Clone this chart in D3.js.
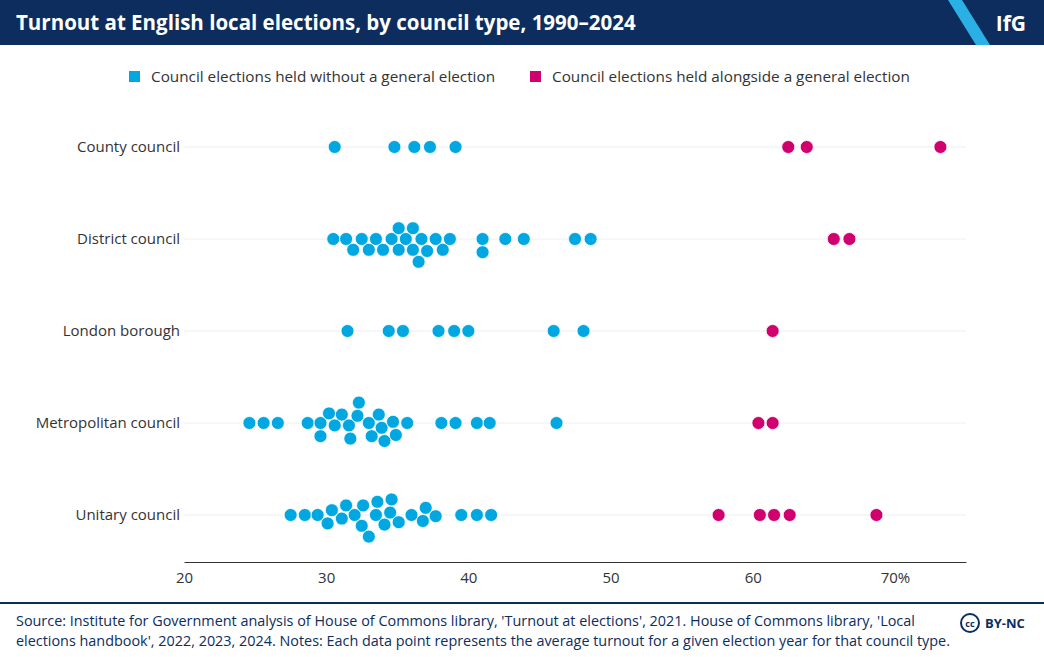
<!DOCTYPE html><html><head><meta charset="utf-8"><script src="https://cdn.jsdelivr.net/npm/d3@7"></script>
<style>body{margin:0;background:#fff;font-family:"Open Sans",sans-serif}</style></head><body><svg id="c" width="1044" height="657"></svg>
<script>
const categories=["County council","District council","London borough","Metropolitan council","Unitary council"];
const withoutGE=[
[30.6,34.8,36.2,37.3,39.1],
[30.5,31.4,31.9,32.5,33.0,33.5,34.0,34.6,35.1,35.1,35.6,36.1,36.1,36.5,36.7,37.1,37.7,38.2,38.7,41.0,41.0,42.6,43.9,47.5,48.6],
[31.5,34.4,35.4,37.9,39.0,40.0,46.0,48.1],
[24.6,25.6,26.6,28.7,29.6,29.6,30.2,30.6,31.1,31.6,31.7,32.2,32.3,33.0,33.2,33.7,33.9,34.1,34.7,34.9,35.7,38.1,39.1,40.6,41.5,46.2],
[27.5,28.5,29.4,30.1,30.4,31.1,31.4,32.0,32.5,32.6,33.0,33.5,33.6,34.1,34.5,34.6,35.1,36.0,36.8,37.0,37.7,39.5,40.6,41.6]];
const withGE=[[62.5,63.8,73.2],[65.7,66.8],[61.4],[60.4,61.4],[57.6,60.5,61.5,62.6,68.7]];
const ticks=[20,30,40,50,60,70];
const blue="#00a7e0",pink="#d0006f",navy="#0c2d5e";
const svg=d3.select("#c");
svg.append("rect").attr("width",1044).attr("height",45).attr("fill",navy);
svg.append("text").attr("x",16).attr("y",30).attr("fill","#fff").attr("font-size",20.5).attr("font-weight",700).text("Turnout at English local elections, by council type, 1990–2024");
svg.append("polygon").attr("points","948,0 962,0 990,45 976,45").attr("fill","#2bb0e6");
svg.append("text").attr("x",1026).attr("y",31).attr("text-anchor","end").attr("fill","#fff").attr("font-size",21).attr("font-weight",700).text("IfG");
const x=d3.scaleLinear().domain([20,75]).range([184,966]);
const y=d3.scalePoint().domain(categories).range([147,515]);
[[blue,"Council elections held without a general election",129],[pink,"Council elections held alongside a general election",530]].forEach(([c,t,lx])=>{
svg.append("rect").attr("x",lx).attr("y",71).attr("width",11).attr("height",11).attr("fill",c);
svg.append("text").attr("x",lx+22).attr("y",82).attr("font-size",15.3).attr("fill","#333").text(t);});
categories.forEach(c=>{
svg.append("line").attr("x1",184).attr("x2",966).attr("y1",y(c)).attr("y2",y(c)).attr("stroke","#eee");
svg.append("text").attr("x",180).attr("y",y(c)+5).attr("text-anchor","end").attr("font-size",15).attr("fill","#333").text(c);});
const ax=svg.append("g").attr("transform","translate(0,562)").call(d3.axisBottom(x).tickValues(ticks).tickSize(0).tickPadding(10).tickFormat(d=>d===70?"70%":d));
ax.select(".domain").attr("stroke","#333");
ax.selectAll("text").attr("font-size",15).attr("fill","#333").attr("font-family","Open Sans");
const r=6.5,D=12.8;
function swarm(vals){const placed=[];const out=[];
vals.slice().sort((a,b)=>a-b).forEach(v=>{const px=x(v);let best=null;
const cands=[0];for(let k=1;k<40;k++){cands.push(k*1.2,-k*1.2);}
for(const dy of cands){if(placed.every(p=>(p[0]-px)**2+(p[1]-dy)**2>=D*D-0.5)){best=dy;break;}}
placed.push([px,best]);out.push([px,best]);});return out;}
categories.forEach((c,i)=>{
[[withoutGE[i],blue],[withGE[i],pink]].forEach(([vals,col])=>{
svg.append("g").selectAll("circle").data(swarm(vals)).join("circle").attr("cx",d=>d[0]).attr("cy",d=>y(c)+d[1]).attr("r",r).attr("fill",col).attr("stroke","#fff").attr("stroke-width",0.8);});});
svg.append("line").attr("x1",0).attr("x2",1044).attr("y1",603).attr("y2",603).attr("stroke",navy).attr("stroke-width",2);
const ft=svg.append("text").attr("font-size",14.4).attr("fill",navy);
ft.append("tspan").attr("x",16).attr("y",626).text("Source: Institute for Government analysis of House of Commons library, 'Turnout at elections', 2021. House of Commons library, 'Local");
ft.append("tspan").attr("x",16).attr("y",646).text("elections handbook', 2022, 2023, 2024. Notes: Each data point represents the average turnout for a given election year for that council type.");
svg.append("circle").attr("cx",970).attr("cy",623).attr("r",9).attr("fill","none").attr("stroke",navy).attr("stroke-width",2);
svg.append("text").attr("x",970).attr("y",627).attr("text-anchor","middle").attr("font-size",9).attr("font-weight",700).attr("fill",navy).text("cc");
svg.append("text").attr("x",985).attr("y",628).attr("font-size",13).attr("font-weight",700).attr("fill",navy).text("BY-NC");
</script></body></html>
